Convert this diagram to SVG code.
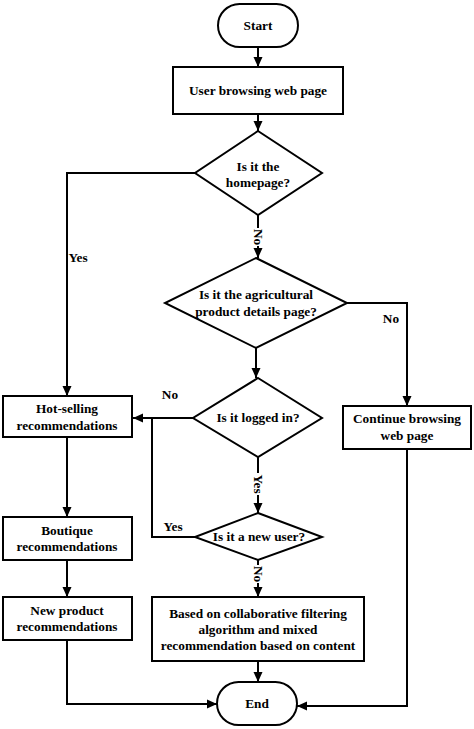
<svg xmlns="http://www.w3.org/2000/svg" width="474" height="729" viewBox="0 0 474 729">
<style>
.s{fill:#fff;stroke:#000;stroke-width:2}
.c{fill:none;stroke:#000;stroke-width:2;marker-end:url(#a)}
.l{fill:none;stroke:#000;stroke-width:2}
.bg{fill:#fff}
text{font-family:"Liberation Serif","Times New Roman",serif;font-weight:bold;font-size:13.3px;fill:#000;text-anchor:middle}
</style>
<defs>
<marker id="a" markerUnits="userSpaceOnUse" markerWidth="10" markerHeight="10" refX="10" refY="5" orient="auto">
<path d="M0,0.5 L10,5 L0,9.5 z" fill="#000"/>
</marker>
</defs>
<rect width="474" height="729" fill="#fff"/>
<g id="connectors">
<path class="c" d="M258,47 V67"/>
<path class="c" d="M258,114 V131"/>
<path class="c" d="M258,215 V258"/>
<path class="c" d="M195,173 H67 V396"/>
<path class="c" d="M347,303 H407 V406"/>
<path class="c" d="M256,348 V378"/>
<path class="c" d="M193,418 H133"/>
<path class="l" d="M195,537 H152 V418"/>
<path class="c" d="M258,457 V513"/>
<path class="c" d="M258,560 V597"/>
<path class="c" d="M258,661 V682"/>
<path class="c" d="M67,437 V517"/>
<path class="c" d="M67,560 V597"/>
<path class="c" d="M67,640 V704 H217"/>
<path class="c" d="M407,449 V706 H297"/>
<text x="78" y="262">Yes</text>
<text x="391" y="323">No</text>
<text x="170" y="399">No</text>
<text x="173" y="531">Yes</text>
<rect class="bg" x="252" y="228" width="12" height="18"/>
<text transform="translate(258,237) rotate(90)" y="4">No</text>
<rect class="bg" x="252" y="473" width="12" height="22"/>
<text transform="translate(258,484) rotate(90)" y="4">Yes</text>
<rect class="bg" x="252" y="565" width="12" height="18"/>
<text transform="translate(258,574) rotate(90)" y="4">No</text>
</g>
<g id="start">
<rect class="s" x="218" y="4" width="80" height="43" rx="21.5"/>
<text x="258" y="30">Start</text>
</g>
<g id="browse">
<rect class="s" x="173" y="67" width="170" height="47"/>
<text x="258" y="95">User browsing web page</text>
</g>
<g id="homepage">
<polygon class="s" points="258,131 322,173 258,215 195,173"/>
<text x="258" y="171">Is it the</text>
<text x="258" y="187">homepage?</text>
</g>
<g id="details">
<polygon class="s" points="256,258 347,303 256,348 165,303"/>
<text x="256" y="299">Is it the agricultural</text>
<text x="256" y="316">product details page?</text>
</g>
<g id="continue">
<rect class="s" x="343" y="406" width="128" height="43"/>
<text x="407" y="423">Continue browsing</text>
<text x="407" y="440">web page</text>
</g>
<g id="logged">
<polygon class="s" points="258,378 322,418 258,457 193,418"/>
<text x="258" y="422">Is it logged in?</text>
</g>
<g id="hot">
<rect class="s" x="3" y="396" width="129" height="41"/>
<text x="67" y="413">Hot-selling</text>
<text x="67" y="430">recommendations</text>
</g>
<g id="newuser">
<polygon class="s" points="258,513 322,537 258,560 195,537"/>
<text x="259" y="541">Is it a new user?</text>
</g>
<g id="boutique">
<rect class="s" x="3" y="517" width="129" height="43"/>
<text x="67" y="535">Boutique</text>
<text x="67" y="551">recommendations</text>
</g>
<g id="newproduct">
<rect class="s" x="3" y="597" width="129" height="43"/>
<text x="67" y="615">New product</text>
<text x="67" y="631">recommendations</text>
</g>
<g id="collab">
<rect class="s" x="152" y="597" width="212" height="64"/>
<text x="258" y="618">Based on collaborative filtering</text>
<text x="258" y="634">algorithm and mixed</text>
<text x="258" y="650">recommendation based on content</text>
</g>
<g id="end">
<rect class="s" x="217" y="682" width="80" height="43" rx="21.5"/>
<text x="257" y="708">End</text>
</g>
</svg>
